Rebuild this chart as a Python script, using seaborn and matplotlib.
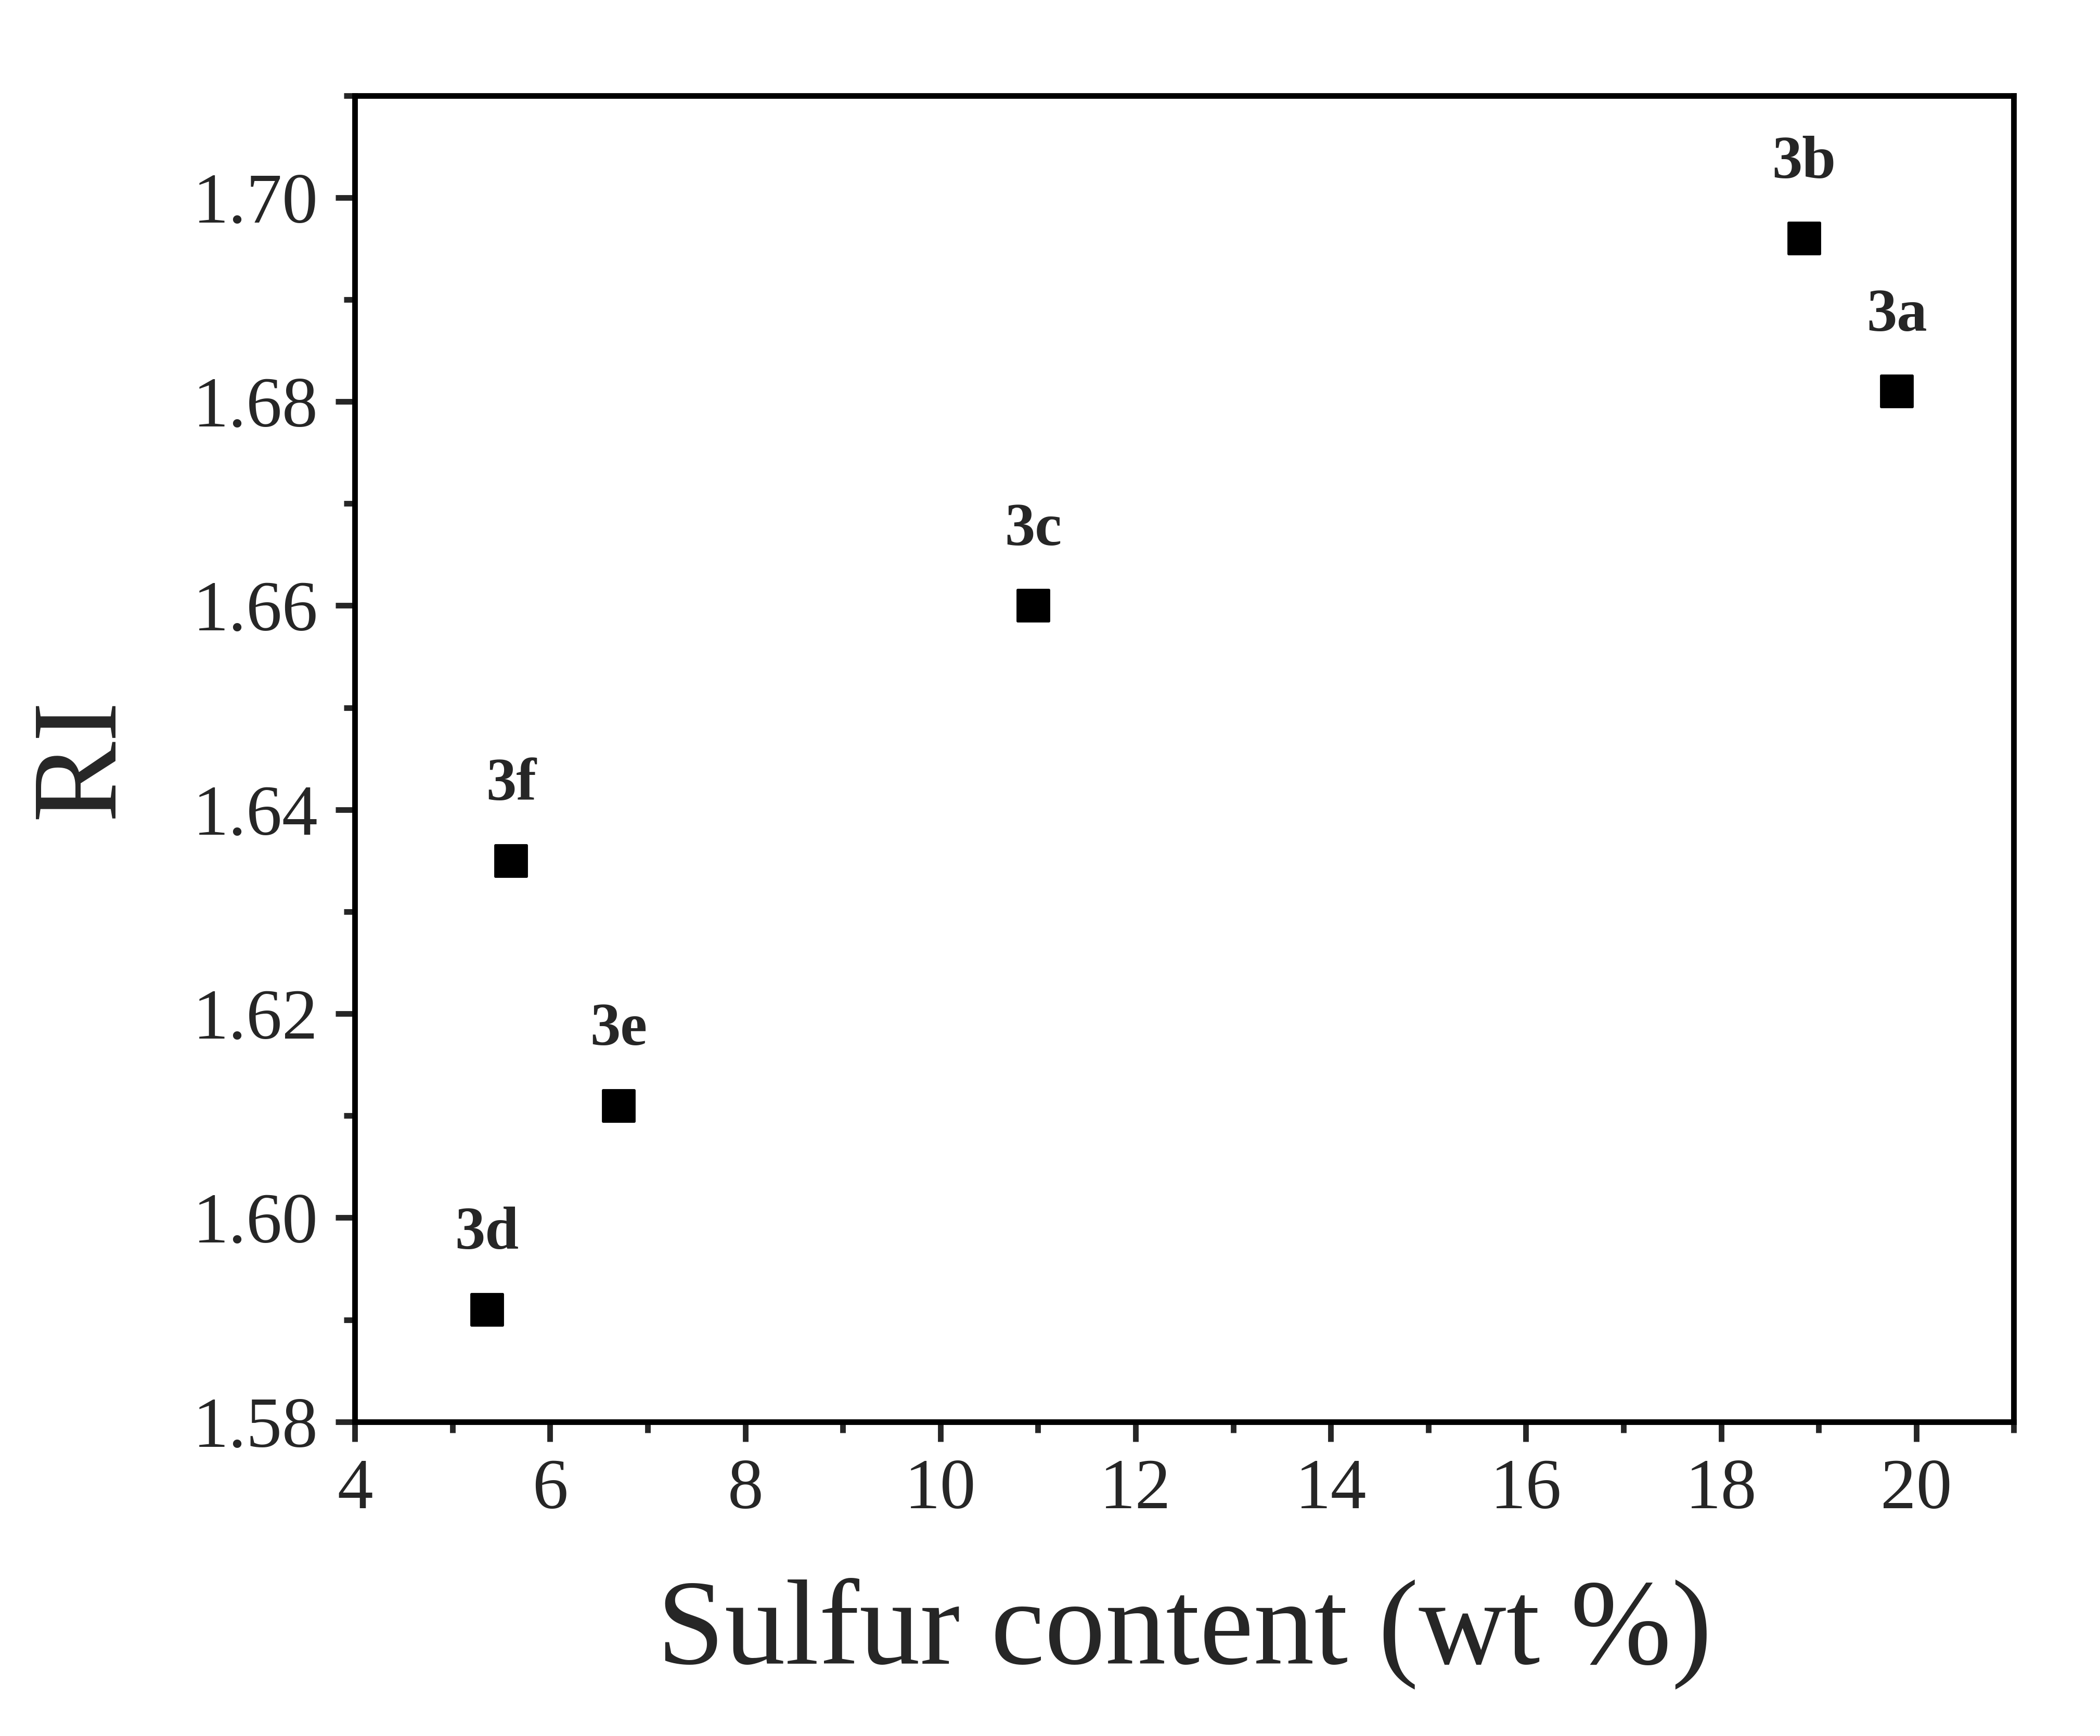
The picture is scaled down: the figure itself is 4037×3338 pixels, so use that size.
import seaborn as sns
import matplotlib.pyplot as plt
import pandas as pd
from matplotlib.ticker import MultipleLocator

# Data
samples = ['3a', '3b', '3c', '3d', '3e', '3f']
sulfur = [19.8, 18.85, 10.95, 5.35, 6.7, 5.6]
ri = [1.681, 1.696, 1.660, 1.591, 1.611, 1.635]

df = pd.DataFrame({'sample': samples, 'sulfur': sulfur, 'ri': ri})

sns.set_style('ticks')
plt.rcParams['font.family'] = ['Liberation Serif', 'DejaVu Serif']

fig = plt.figure(figsize=(4037 / 300, 3338 / 300), dpi=300)
ax = fig.add_axes([0.169, 0.181, 0.79, 0.764])

sns.scatterplot(x='sulfur', y='ri', data=df, marker='s', s=210, color='black',
                edgecolor='black', ax=ax, legend=False, zorder=3)

for _, r in df.iterrows():
    ax.annotate(r['sample'], (r['sulfur'], r['ri']), xytext=(0, 22),
                textcoords='offset points', ha='center', va='bottom',
                fontsize=28, fontweight='bold')

ax.set_xlim(4, 21)
ax.set_ylim(1.58, 1.71)
ax.xaxis.set_major_locator(MultipleLocator(2))
ax.xaxis.set_minor_locator(MultipleLocator(1))
ax.yaxis.set_major_locator(MultipleLocator(0.02))
ax.yaxis.set_minor_locator(MultipleLocator(0.01))
ax.yaxis.set_major_formatter(plt.FormatStrFormatter('%.2f'))

for s in ax.spines.values():
    s.set_linewidth(2.6)
    s.set_color('black')
ax.tick_params(which='major', length=9, width=2.6, labelsize=33, direction='out', pad=8)
ax.tick_params(which='minor', length=5, width=2.6, direction='out')

ax.set_xlabel('Sulfur content (wt %)', fontsize=56, labelpad=25)
ax.set_ylabel('RI', fontsize=56, labelpad=25)

fig.savefig('out.png', dpi=300)
